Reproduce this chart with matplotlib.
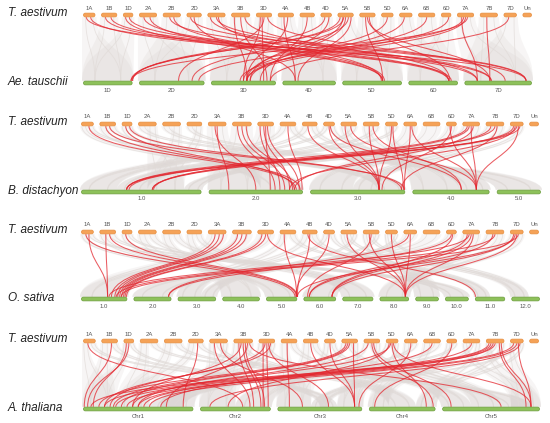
import numpy as np
import matplotlib
matplotlib.use("Agg")
import matplotlib.pyplot as plt
from matplotlib.path import Path
from matplotlib.patches import PathPatch, FancyBboxPatch

# ---------------- data ----------------
wheat_chr = ['1A', '1B', '1D', '2A', '2B', '2D', '3A', '3B', '3D', '4A', '4B', '4D',
             '5A', '5B', '5D', '6A', '6B', '6D', '7A', '7B', '7D', 'Un']
wheat_len = [15, 19, 13, 21, 21, 18, 21, 22, 19, 19, 18, 14,
             19, 19, 15, 16, 20, 13, 20, 21, 16, 12]

aet_chr = ['1D', '2D', '3D', '4D', '5D', '6D', '7D']
aet_len = [473, 620, 615, 509, 566, 474, 638]

bd_chr = ['1.0', '2.0', '3.0', '4.0', '5.0']
bd_len = [75.1, 59.1, 59.6, 48.6, 28.4]

os_chr = ['1.0', '2.0', '3.0', '4.0', '5.0', '6.0', '7.0', '8.0', '9.0', '10.0', '11.0', '12.0']
os_len = [43.3, 35.9, 36.4, 35.5, 29.9, 31.2, 29.7, 28.4, 23.0, 23.2, 29.0, 27.5]

ath_chr = ['Chr1', 'Chr2', 'Chr3', 'Chr4', 'Chr5']
ath_len = [30.4, 19.7, 23.5, 18.6, 27.0]

species = ['Ae. tauschii', 'B. distachyon', 'O. sativa', 'A. thaliana']

# grey collinear blocks: homoeologous group -> (target chr, start frac, end frac)
aet_blocks = {'1': [('1D', 0, 1)], '2': [('2D', 0, 1)], '3': [('3D', 0, 1)], '4': [('4D', 0, 1)],
              '5': [('5D', 0, 1)], '6': [('6D', 0, 1)], '7': [('7D', 0, 1)]}
bd_blocks = {'1': [('2.0', 0.55, 1.0), ('3.0', 0.7, 1.0)],
             '2': [('5.0', 0, 1), ('1.0', 0.55, 0.85)],
             '3': [('2.0', 0, 0.55)],
             '4': [('1.0', 0, 0.3), ('4.0', 0.6, 1.0)],
             '5': [('4.0', 0, 0.6), ('1.0', 0.3, 0.55)],
             '6': [('3.0', 0, 0.45)],
             '7': [('1.0', 0.85, 1.0), ('3.0', 0.45, 0.7)]}
os_blocks = {'1': [('5.0', 0, 1), ('10.0', 0, 1)],
             '2': [('4.0', 0, 1), ('7.0', 0, 1)],
             '3': [('1.0', 0, 1)],
             '4': [('3.0', 0, 0.6), ('11.0', 0, 0.5)],
             '5': [('9.0', 0, 1), ('12.0', 0, 0.6), ('3.0', 0.6, 1)],
             '6': [('2.0', 0, 1)],
             '7': [('6.0', 0, 1), ('8.0', 0, 1)]}
ath_blocks = {'1': [('Chr1', 0, 0.3), ('Chr3', 0.5, 0.7)],
              '2': [('Chr1', 0.3, 0.6), ('Chr5', 0.6, 0.9)],
              '3': [('Chr2', 0, 0.5), ('Chr4', 0.3, 0.7), ('Chr1', 0.7, 1)],
              '4': [('Chr3', 0, 0.4), ('Chr5', 0, 0.3)],
              '5': [('Chr2', 0.5, 1), ('Chr5', 0.3, 0.6), ('Chr3', 0.7, 1)],
              '6': [('Chr4', 0, 0.3), ('Chr1', 0.6, 0.9)],
              '7': [('Chr5', 0.7, 1), ('Chr3', 0.4, 0.6), ('Chr4', 0.7, 1)]}

# red links: (wheat chr, frac, target chr, frac)
aet_links = [('1A', .3, '7D', .9), ('1B', .3, '6D', .85), ('1B', .6, '7D', .4), ('1D', .3, '5D', .67),
             ('1D', .6, '7D', .2), ('2A', .3, '6D', .8), ('2A', .6, '5D', .67), ('2B', .4, '7D', .4),
             ('2D', .5, '4D', .25), ('3A', .2, '7D', .2), ('3A', .6, '5D', .65), ('3B', .2, '3D', .55),
             ('3B', .5, '3D', .85), ('3B', .7, '6D', .8), ('3D', .3, '3D', .5), ('3D', .4, '3D', .8),
             ('3D', .5, '2D', .6), ('4A', .4, '4D', .25), ('4A', .6, '3D', .55), ('4B', .5, '3D', .9),
             ('4D', .4, '1D', .98), ('4D', .7, '3D', .6), ('5A', .2, '1D', .97), ('5A', .35, '3D', .55),
             ('5A', .5, '3D', .75), ('5A', .65, '2D', .8), ('5A', .8, '4D', .3), ('5B', .4, '5D', .67),
             ('5B', .5, '7D', .38), ('5B', .6, '6D', .82), ('5D', .5, '3D', .5), ('6A', .4, '3D', .6),
             ('6D', .7, '3D', .45), ('7A', .3, '7D', .2), ('7A', .5, '3D', .55), ('7A', .6, '1D', .95),
             ('7B', .4, '7D', .38), ('7D', .4, '3D', .9), ('2D', .3, '7D', .9), ('3A', .5, '7D', .9),
             ('1A', .6, '6D', .8), ('2B', .6, '5D', .7), ('3D', .7, '7D', .6), ('5A', .4, '1D', .95),
             ('6B', .5, '3D', .55), ('7A', .4, '2D', .9)]
bd_links = [('1A', .6, '2.0', .92), ('1B', .4, '2.0', .96), ('1B', .6, '3.0', .98), ('1D', .4, '2.0', .9),
            ('1D', .7, '3.0', .95), ('3A', .5, '2.0', .22), ('3A', .4, '2.0', .5), ('3B', .3, '2.0', .7),
            ('3B', .5, '2.0', .8), ('3B', .7, '2.0', .88), ('3D', .2, '2.0', .75), ('3D', .4, '2.0', .85),
            ('3D', .6, '2.0', .95), ('3D', .5, '2.0', .65), ('4A', .5, '2.0', .98), ('4B', .4, '3.0', .72),
            ('4D', .5, '3.0', .72), ('4D', .6, '4.0', .63), ('5A', .3, '3.0', .72), ('5A', .6, '4.0', .82),
            ('5B', .4, '3.0', .72), ('5B', .6, '4.0', .63), ('5D', .5, '3.0', .72), ('5D', .6, '3.0', .97),
            ('6A', .5, '3.0', .98), ('6A', .6, '4.0', .82), ('6D', .5, '3.0', .75), ('7A', .3, '1.0', .38),
            ('7A', .5, '4.0', .82), ('7A', .6, '2.0', .9), ('7B', .3, '1.0', .59), ('7B', .5, '1.0', .38),
            ('7B', .6, '3.0', .95), ('7D', .3, '1.0', .59), ('7D', .5, '1.0', .4), ('7D', .6, '4.0', .82),
            ('7D', .4, '2.0', .85), ('6D', .4, '4.0', .82), ('7A', .4, '1.0', .6), ('7D', .7, '1.0', .38)]
os_links = [('1A', .6, '1.0', .57), ('1B', .4, '1.0', .57), ('1B', .6, '5.0', .95), ('1D', .4, '5.0', .97),
            ('1A', .4, '5.0', .9), ('3A', .4, '1.0', .65), ('3A', .6, '1.0', .72), ('3A', .8, '1.0', .78),
            ('3B', .3, '1.0', .82), ('3B', .5, '1.0', .86), ('3B', .7, '1.0', .9), ('3D', .3, '1.0', .93),
            ('3D', .5, '1.0', .96), ('3D', .6, '8.0', .85), ('4A', .3, '5.0', .95), ('4B', .4, '11.0', .05),
            ('4B', .5, '5.0', .97), ('4D', .5, '5.0', .93), ('5A', .4, '8.0', .85), ('5B', .4, '8.0', .85),
            ('5B', .5, '6.0', .15), ('5D', .5, '8.0', .85), ('6A', .5, '8.0', .85), ('6A', .4, '2.0', .9),
            ('6D', .5, '2.0', .9), ('6D', .6, '6.0', .85), ('7A', .3, '6.0', .2), ('7A', .5, '6.0', .85),
            ('7A', .6, '8.0', .85), ('7A', .4, '1.0', .6), ('7B', .4, '6.0', .2), ('7B', .5, '1.0', .75),
            ('7D', .3, '6.0', .85), ('7D', .5, '8.0', .85), ('7D', .4, '5.0', .97), ('7D', .6, '1.0', .85)]
ath_links = [('1A', .4, 'Chr2', .6), ('1B', .6, 'Chr1', .02), ('1D', .5, 'Chr1', .05), ('1D', .3, 'Chr1', .1),
             ('3A', .3, 'Chr2', .7), ('3A', .6, 'Chr3', .3), ('3B', .3, 'Chr2', .75), ('3B', .5, 'Chr2', .85),
             ('3B', .6, 'Chr2', .9), ('3B', .4, 'Chr1', .45), ('3D', .3, 'Chr2', .88), ('3D', .5, 'Chr2', .95),
             ('3D', .6, 'Chr3', .6), ('3D', .4, 'Chr1', .25), ('4A', .4, 'Chr3', .15), ('4B', .5, 'Chr3', .9),
             ('4D', .5, 'Chr3', .9), ('5A', .3, 'Chr1', .15), ('5A', .5, 'Chr1', .35), ('5A', .7, 'Chr3', .9),
             ('5B', .3, 'Chr1', .5), ('5B', .5, 'Chr4', .95), ('5B', .6, 'Chr5', .1), ('5D', .3, 'Chr2', .4),
             ('5D', .5, 'Chr4', .85), ('5D', .6, 'Chr5', .9), ('6A', .5, 'Chr3', .95), ('6B', .5, 'Chr1', .7),
             ('6D', .5, 'Chr4', .1), ('7A', .5, 'Chr1', .55), ('7B', .2, 'Chr1', .08), ('7B', .3, 'Chr1', .2),
             ('7B', .5, 'Chr1', .3), ('7B', .7, 'Chr5', .85), ('7B', .8, 'Chr5', .9), ('7D', .3, 'Chr1', .4),
             ('7D', .5, 'Chr1', .6), ('7D', .6, 'Chr5', .9), ('7D', .7, 'Chr2', .15), ('2D', .6, 'Chr1', .9),
             ('3B', .8, 'Chr5', .6), ('3D', .7, 'Chr1', .2), ('5A', .4, 'Chr1', .28), ('7B', .4, 'Chr1', .5),
             ('3B', .7, 'Chr1', .75), ('5D', .4, 'Chr1', .45)]

# ---------------- drawing ----------------
W, H = 550, 423
fig = plt.figure(figsize=(5.5, 4.23), dpi=100)
ax = fig.add_axes([0, 0, 1, 1])
ax.set_xlim(0, W)
ax.set_ylim(H, 0)
ax.axis('off')

ORANGE, ORANGE_E = '#F5A257', '#E58E40'
GREEN, GREEN_E = '#8DC15A', '#6C9C3C'
RED = '#E3262E'
GREY = '#CEC6C3'
BH = 4.2


def layout(names, lengths, x0, x1, gap):
    L = np.asarray(lengths, float)
    scale = (x1 - x0 - gap * (len(L) - 1)) / L.sum()
    w = L * scale
    starts = x0 + np.concatenate([[0], np.cumsum(w + gap)[:-1]])
    return {n: (s, s + ww) for n, s, ww in zip(names, starts, w)}


def draw_bars(pos, y, fc, ec, label_dy):
    for n, (s, e) in pos.items():
        ax.add_patch(FancyBboxPatch((s + 1.5, y - BH / 2 + 0.2), e - s - 3, BH - 0.4,
                                    boxstyle='round,pad=0,rounding_size=1.8',
                                    fc=fc, ec=ec, lw=0.5, zorder=5))
        ax.text((s + e) / 2, y + label_dy, n, fontsize=4.3, color='#555555',
                ha='center', va='center', family='Liberation Sans', zorder=6)


def xat(pos, name, f):
    s, e = pos[name]
    return s + f * (e - s)


def curve(xt, yt, xb, yb):
    ym = (yt + yb) / 2
    return Path([(xt, yt), (xt, ym), (xb, ym), (xb, yb)],
                [Path.MOVETO, Path.CURVE4, Path.CURVE4, Path.CURVE4])


def ribbon(xt0, xt1, yt, xb0, xb1, yb):
    ym = (yt + yb) / 2
    verts = [(xt0, yt), (xt0, ym), (xb0, ym), (xb0, yb), (xb1, yb),
             (xb1, ym), (xt1, ym), (xt1, yt), (xt0, yt)]
    codes = [Path.MOVETO, Path.CURVE4, Path.CURVE4, Path.CURVE4, Path.LINETO,
             Path.CURVE4, Path.CURVE4, Path.CURVE4, Path.CLOSEPOLY]
    return Path(verts, codes)


panels = [
    dict(yt=15, yb=83, wx=(82, 533), bx=(82, 533), bgap=4.3, names=aet_chr, lens=aet_len,
         blocks=aet_blocks, links=aet_links),
    dict(yt=124, yb=192, wx=(80, 540), bx=(80, 542), bgap=5, names=bd_chr, lens=bd_len,
         blocks=bd_blocks, links=bd_links),
    dict(yt=232, yb=299, wx=(80, 540), bx=(80, 541), bgap=4, names=os_chr, lens=os_len,
         blocks=os_blocks, links=os_links),
    dict(yt=341, yb=409, wx=(82, 540), bx=(82, 541), bgap=4.5, names=ath_chr, lens=ath_len,
         blocks=ath_blocks, links=ath_links),
]

for sp, p in zip(species, panels):
    tpos = layout(wheat_chr, wheat_len, p['wx'][0], p['wx'][1], 3.5)
    bpos = layout(p['names'], p['lens'], p['bx'][0], p['bx'][1], p['bgap'])
    yt, yb = p['yt'] + BH / 2, p['yb'] - BH / 2

    # grey collinear background
    for c in wheat_chr:
        if c == 'Un':
            continue
        tg = p['blocks'][c[0]]
        k = len(tg)
        for i, (bc, f0, f1) in enumerate(tg):
            t0, t1 = i / k, (i + 1) / k
            path = ribbon(xat(tpos, c, t0), xat(tpos, c, t1), yt,
                          xat(bpos, bc, f0), xat(bpos, bc, f1), yb)
            ax.add_patch(PathPatch(path, fc=GREY, ec='none', alpha=0.16, zorder=1))
            for f in (0.25, 0.75):
                pth = curve(xat(tpos, c, t0 + f * (t1 - t0)), yt,
                            xat(bpos, bc, f0 + f * (f1 - f0)), yb)
                ax.add_patch(PathPatch(pth, fc='none', ec='#E0DAD7', lw=0.6, alpha=0.7, zorder=1.5))

    # red links
    for tc, tf, bc, bf in p['links']:
        pth = curve(xat(tpos, tc, tf), yt, xat(bpos, bc, bf), yb)
        ax.add_patch(PathPatch(pth, fc='none', ec=RED, lw=0.75, alpha=0.75, zorder=3))

    draw_bars(tpos, p['yt'], ORANGE, ORANGE_E, -7)
    draw_bars(bpos, p['yb'], GREEN, GREEN_E, 7)

    ax.text(8, p['yt'] - 2, 'T. aestivum', fontsize=8.5, style='italic',
            family='Liberation Sans', ha='left', va='center', color='#222222')
    ax.text(8, p['yb'] - 1, sp, fontsize=8.5, style='italic',
            family='Liberation Sans', ha='left', va='center', color='#222222')

fig.savefig('out.png', dpi=100, facecolor='white')
